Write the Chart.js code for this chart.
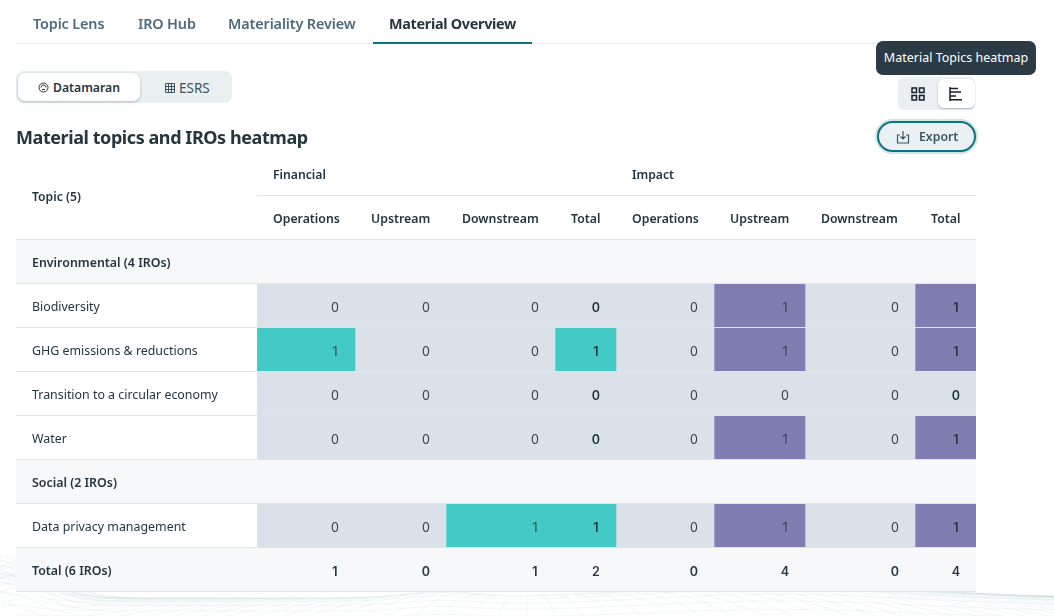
<!DOCTYPE html>
<html>
<head>
<meta charset="utf-8">
<title>Material Overview</title>
<script src="https://cdn.jsdelivr.net/npm/chart.js@4"></script>
<style>
  html, body { margin:0; padding:0; background:#fff; }
  body { width:1054px; height:616px; position:relative; overflow:hidden; font-family:"Noto Sans", sans-serif; color:#25363f; }
  canvas { position:absolute; left:0; top:0; }
  .abs { position:absolute; white-space:nowrap; }
  .tab { top:13.500px; font-size:14.4px; font-weight:600; color:#4d6b80; line-height:20px; letter-spacing:-0.13px; }
  .tab.active { color:#25363f; font-weight:700; letter-spacing:-0.3px; }
  #tabLine { left:16px; top:43px; width:960px; height:1px; background:#e8ebef; }
  #tabMark { left:373px; top:42px; width:159px; height:2px; background:#0d7380; }
  #lens { left:16px; top:71px; width:216px; height:32px; background:#eaeff2; border-radius:8px; }
  #lensOn { left:18px; top:73px; width:122px; height:28px; background:#fff; border-radius:7px; box-shadow:0 1px 3px rgba(40,60,70,.3); }
  .lensText { top:79px; font-size:12.5px; line-height:18px; }
  h1 { position:absolute; left:16px; top:123px; margin:0; font-size:18px; font-weight:700; line-height:28px; color:#25363f; letter-spacing:-0.43px; }
  #hint { left:876px; top:41px; width:160px; height:34px; background:#2b3a44; border-radius:7px; color:#fff; font-size:12.5px; line-height:34px; text-align:center; }
  #views { left:898px; top:77px; width:77px; height:33px; background:#eaeff2; border-radius:6px; }
  #viewOn { left:938px; top:79px; width:37px; height:29px; background:#fff; border-radius:6px; box-shadow:0 1px 2px rgba(40,60,70,.3); }
  #exportBtn { left:877px; top:121px; width:95px; height:27px; border:2px solid #0d7380; border-radius:16px; background:#eaf0f3; box-shadow:0 0 0 2px #cfe5e7; font-size:12.3px; font-weight:600; color:#3c5562; line-height:27px; text-indent:40px; }
  svg { position:absolute; }
</style>
</head>
<body>
<canvas id="terrain" width="1054" height="616"></canvas>
<canvas id="heatmap" width="1054" height="616"></canvas>

<div class="abs tab" style="left:33px">Topic Lens</div>
<div class="abs tab" style="left:138px">IRO Hub</div>
<div class="abs tab" style="left:228px">Materiality Review</div>
<div class="abs tab active" style="left:389px">Material Overview</div>
<div class="abs" id="tabLine"></div>
<div class="abs" id="tabMark"></div>

<div class="abs" id="lens"></div>
<div class="abs" id="lensOn"></div>
<svg style="left:38px;top:82px" width="11" height="11" viewBox="0 0 11 11" fill="none" stroke="#25363f"><circle cx="5.5" cy="5.5" r="4.5"/><path d="M3 5.5a2.5 2.5 0 0 1 5 0M4 7.5h3"/></svg>
<div class="abs lensText" style="left:53px;font-weight:600;font-size:12.2px">Datamaran</div>
<svg style="left:165px;top:83px" width="10" height="10" viewBox="0 0 10 10" fill="none" stroke="#3c5562"><path d="M.5.5h9v9h-9zM.5 3.5h9M.5 6.5h9M3.5.5v9M6.5.5v9"/></svg>
<div class="abs lensText" style="left:179px;color:#3c5562;font-size:13.5px">ESRS</div>

<h1>Material topics and IROs heatmap</h1>

<div class="abs" id="hint">Material Topics heatmap</div>
<div class="abs" id="views"></div>
<div class="abs" id="viewOn"></div>
<svg style="left:911px;top:87px" width="14" height="14" viewBox="0 0 14 14" fill="none" stroke="#16222a" stroke-width="1.5"><path d="M1 1h4.5v4.5H1zM8.5 1H13v4.5H8.5zM1 8.5h4.5V13H1zM8.5 8.5H13V13H8.5z"/></svg>
<svg style="left:949px;top:87px" width="14" height="14" viewBox="0 0 14 14" fill="none" stroke="#16222a" stroke-width="1.5"><path d="M1 0v14M1 1.500h8M1 5h11M1 9h6M1 12.800h12"/></svg>
<div class="abs" id="exportBtn">Export</div>
<svg style="left:896px;top:130px" width="14" height="14" viewBox="0 0 14 14" fill="none" stroke="#3c5562" stroke-width="1.2"><path d="M4 5H1.500v8h11V5H10M7 1v8M4.500 6.500 7 9l2.500-2.500"/></svg>

<script>
// heatmap columns and rows
const groupLabels = ['Financial', 'Impact'];
const columnLabels = ['Operations', 'Upstream', 'Downstream', 'Total', 'Operations', 'Upstream', 'Downstream', 'Total'];
const rowLabels = ['Environmental (4 IROs)', 'Biodiversity', 'GHG emissions & reductions', 'Transition to a circular economy', 'Water', 'Social (2 IROs)', 'Data privacy management', 'Total (6 IROs)'];
const topicHeader = 'Topic (5)';

// counts per column, one entry per row (null = section row)
const finOperations = [null, 0, 1, 0, 0, null, 0, 1];
const finUpstream   = [null, 0, 0, 0, 0, null, 0, 0];
const finDownstream = [null, 0, 0, 0, 0, null, 1, 1];
const finTotal      = [null, 0, 1, 0, 0, null, 1, 2];
const impOperations = [null, 0, 0, 0, 0, null, 0, 0];
const impUpstream   = [null, 1, 1, 0, 1, null, 1, 4];
const impDownstream = [null, 0, 0, 0, 0, null, 0, 0];
const impTotal      = [null, 1, 1, 0, 1, null, 1, 4];
const columnValues = [finOperations, finUpstream, finDownstream, finTotal, impOperations, impUpstream, impDownstream, impTotal];

// column widths come from the table layout, in px
const columnEdges = [0, 98, 189, 298, 359, 457, 548, 658, 719];
const sectionRows = [0, 5, 7];
const totalRow = 7;
const cellPad = 16;

const textColor = '#25363f';
const lineColor = '#dfe3ea';
const sectionFill = '#f7f8fa';
const zeroFill = '#dae1e8';
const financialFill = '#44cac6';
const impactFill = '#807dB2';
const numberFont = 'Inter, sans-serif';
const labelFont = '"Noto Sans", sans-serif';

function cellColor(ctx) {
  const col = ctx.datasetIndex;
  const v = columnValues[col][ctx.dataIndex];
  if (ctx.dataIndex === totalRow) return 'rgba(0,0,0,0)';
  if (v === 0) return zeroFill;
  return col < 4 ? financialFill : impactFill;
}

// table furniture under and over the cells, plus the numbers
const tablePlugin = {
  id: 'tablePlugin',
  beforeDraw(chart) {
    const { ctx, scales: { y }, chartArea: a } = chart;
    const h = y.getPixelForValue(1) - y.getPixelForValue(0);
    ctx.save();
    ctx.fillStyle = '#fff';
    ctx.fillRect(16, 150, a.right - 16, a.bottom - 150);
    ctx.fillStyle = sectionFill;
    sectionRows.forEach(r => {
      ctx.fillRect(16, y.getPixelForValue(r) - h / 2, a.right - 16, h);
    });
    ctx.restore();
  },
  afterDatasetsDraw(chart) {
    const { ctx, scales: { x, y }, chartArea: a } = chart;
    const h = y.getPixelForValue(1) - y.getPixelForValue(0);
    ctx.save();
    ctx.strokeStyle = lineColor;
    ctx.lineWidth = 1;
    rowLabels.forEach((_, r) => {
      const py = y.getPixelForValue(r) - h / 2;
      ctx.beginPath(); ctx.moveTo(16, py); ctx.lineTo(a.right, py); ctx.stroke();
    });
    ctx.beginPath(); ctx.moveTo(16, a.bottom); ctx.lineTo(a.right, a.bottom); ctx.stroke();
    ctx.beginPath(); ctx.moveTo(a.left, 195.5); ctx.lineTo(a.right, 195.5); ctx.stroke();

    // digits share the width of a zero so the 1s line up with the 0s
    ctx.textBaseline = 'middle';
    ctx.textAlign = 'center';
    columnValues.forEach((vals, c) => {
      const px = x.getPixelForValue(columnEdges[c + 1]) - cellPad;
      const isTotal = c === 3 || c === 7;
      vals.forEach((v, r) => {
        if (v === null) return;
        const bold = isTotal || r === totalRow;
        ctx.font = (bold ? '600 ' : '400 ') + '12.5px ' + numberFont;
        ctx.fillStyle = bold ? textColor : '#36434c';
        ctx.fillText(String(v), px - ctx.measureText('0').width / 2, y.getPixelForValue(r) + 2.5);
      });
    });

    // header cells that span several columns
    ctx.textAlign = 'left';
    ctx.fillStyle = textColor;
    ctx.font = '600 12.2px ' + labelFont;
    ctx.fillText(groupLabels[0], x.getPixelForValue(columnEdges[0] + cellPad), 176);
    ctx.fillText(groupLabels[1], x.getPixelForValue(columnEdges[4] + cellPad), 176);
    ctx.fillText(topicHeader, 32, 198);
    ctx.restore();
  }
};

new Chart(document.getElementById('heatmap'), {
  type: 'bar',
  plugins: [tablePlugin],
  data: {
    labels: rowLabels,
    datasets: columnValues.map((vals, c) => ({
      label: columnLabels[c],
      data: vals.map(v => v === null ? null : [columnEdges[c], columnEdges[c + 1]]),
      backgroundColor: cellColor,
      borderWidth: 0,
      barPercentage: 1,
      categoryPercentage: 1,
      grouped: false
    }))
  },
  options: {
    indexAxis: 'y',
    responsive: false,
    animation: false,
    layout: { padding: { left: 32, right: 78, top: 150, bottom: 24.5 } },
    plugins: { legend: { display: false }, tooltip: { enabled: false } },
    scales: {
      x: {
        type: 'linear',
        position: 'top',
        min: 0,
        max: 719,
        afterFit(axis) { axis.height = 89.5; },
        afterBuildTicks(axis) {
          axis.ticks = columnEdges.slice(0, 8).map(e => ({ value: e + cellPad }));
        },
        grid: { display: false, drawTicks: false },
        border: { display: false },
        ticks: {
          autoSkip: false,
          maxRotation: 0,
          align: 'start',
          padding: 13,
          color: textColor,
          font: { family: labelFont, size: 12.3, weight: '600' },
          callback: (v, i) => columnLabels[i]
        }
      },
      y: {
        type: 'category',
        afterFit(axis) { axis.width = 225; },
        grid: { display: false, drawTicks: false },
        border: { display: false },
        ticks: {
          crossAlign: 'far',
          autoSkip: false,
          labelOffset: 2,
          color: textColor,
          font: ctx => ({
            family: labelFont,
            size: 12.4,
            weight: sectionRows.includes(ctx.index) ? '600' : '400'
          })
        }
      }
    }
  }
});

// faint wireframe landscape behind the page footer
(function drawTerrain() {
  const c = document.getElementById('terrain').getContext('2d');
  function ground(u, d) {
    const sx = 527 + u * (0.75 + d * 0.9);
    const bump = Math.exp(-Math.pow((sx - 780) / 190, 2)) * 14 + Math.exp(-Math.pow((sx - 440) / 50, 2)) * 6 +
                 Math.exp(-Math.pow(sx / 50, 2)) * 42;
    return [sx, 598 + d * d * 40 - bump * (1 - d * 0.5)];
  }
  c.strokeStyle = 'rgba(150,185,190,0.2)';
  c.lineWidth = 0.6;
  for (let j = 0; j < 8; j++) {
    c.beginPath();
    for (let i = -50; i <= 50; i++) {
      const p = ground(i * 20, j / 7);
      if (i === -50) c.moveTo(p[0], p[1]); else c.lineTo(p[0], p[1]);
    }
    c.stroke();
  }
  for (let i = -50; i <= 50; i++) {
    c.beginPath();
    for (let j = 0; j < 8; j++) {
      const p = ground(i * 20, j / 7);
      if (j === 0) c.moveTo(p[0], p[1]); else c.lineTo(p[0], p[1]);
    }
    c.stroke();
  }
})();
</script>
</body>
</html>
